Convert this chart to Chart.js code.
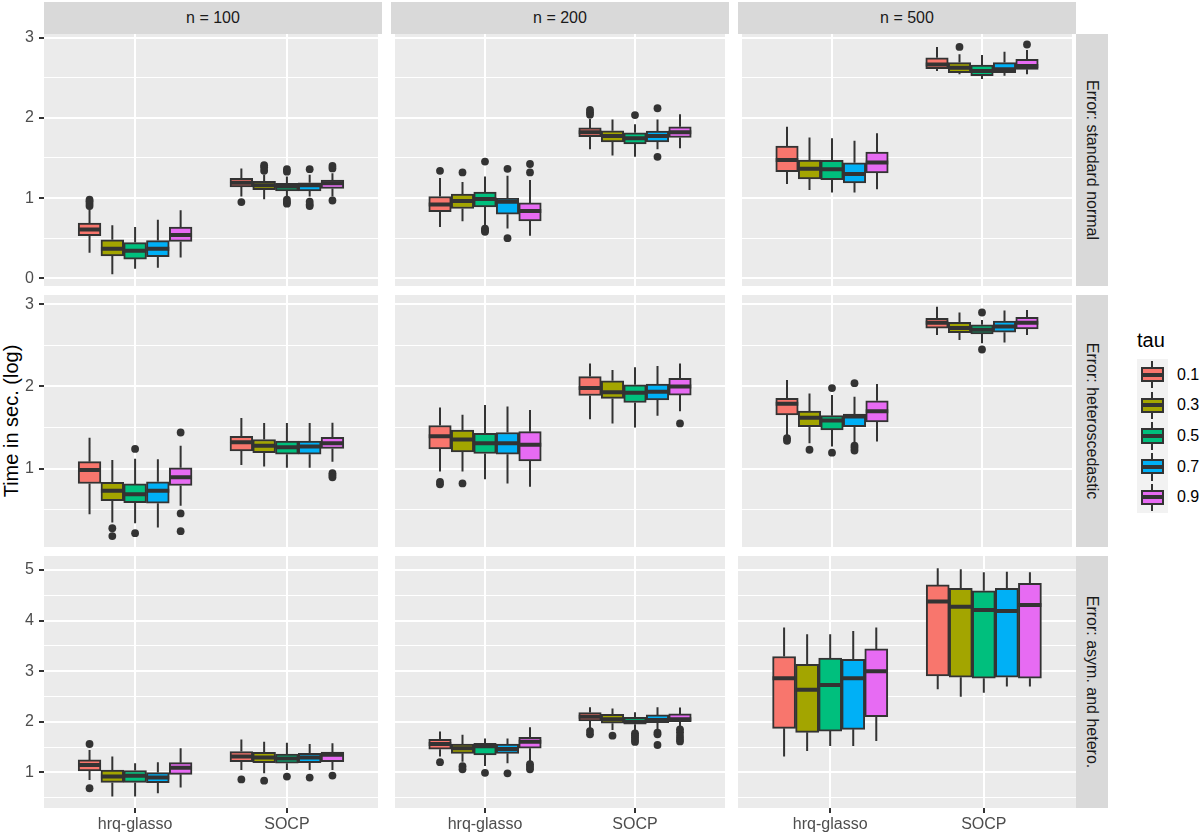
<!DOCTYPE html>
<html>
<head>
<meta charset="utf-8">
<script src="https://cdn.jsdelivr.net/npm/chart.js@4.4.1/dist/chart.umd.min.js"></script>
<style>
html,body{margin:0;padding:0;background:#ffffff;}
body{width:1200px;height:834px;position:relative;overflow:hidden;font-family:"Liberation Sans",Arial,sans-serif;}
canvas{position:absolute;}
.strip{position:absolute;background:#D9D9D9;color:#1A1A1A;font-size:16px;display:flex;align-items:center;justify-content:center;white-space:nowrap;}
.strip.right span{display:block;transform:rotate(90deg);}
#ytitle{position:absolute;left:11px;top:421px;transform:translate(-50%,-50%) rotate(-90deg);font-size:20px;color:#000;white-space:nowrap;}
#legtitle{position:absolute;left:1137px;top:330px;font-size:20px;line-height:20px;color:#000;}
.lkey{position:absolute;background:#F2F2F2;}
.lkey .wh{position:absolute;background:#333333;}
.lkey .bx{position:absolute;box-sizing:border-box;border:2px solid #333333;}
.lkey .md{position:absolute;background:#333333;}
.llab{position:absolute;font-size:16px;color:#000;line-height:20px;}
</style>
</head>
<body>
<div id="ytitle">Time in sec. (log)</div>
<div id="legtitle">tau</div>
<script>
// ---------- labels ----------
const sizeLabels = ['n = 100', 'n = 200', 'n = 500'];
const errorLabels = ['Error: standard normal', 'Error: heteroscedastic', 'Error: asym. and hetero.'];
const methods = ['hrq-glasso', 'SOCP'];
const taus = ['0.1', '0.3', '0.5', '0.7', '0.9'];
const legendTitle = 'tau';

// y tick values per row (major labelled, minor unlabelled grid)
const rowMajorTicks = [[0, 1, 2, 3], [1, 2, 3], [1, 2, 3, 4, 5]];
const rowMinorTicks = [[0.5, 1.5, 2.5], [0.5, 1.5, 2.5], [0.5, 1.5, 2.5, 3.5, 4.5]];
const rowYRange = [[-0.096, 3.046], [0.047, 3.113], [0.294, 5.277]];
const methodTicks = [1, 2];

// ---------- box statistics: [lower whisker, Q1, median, Q3, upper whisker]
// rows: hrq-glasso tau 0.1..0.9, then SOCP tau 0.1..0.9
const normal_n100 = [
  [0.32, 0.53, 0.61, 0.69, 0.86], [0.05, 0.28, 0.37, 0.48, 0.66], [0.12, 0.24, 0.345, 0.445, 0.64],
  [0.13, 0.27, 0.37, 0.47, 0.73], [0.26, 0.46, 0.54, 0.64, 0.85],
  [1.02, 1.14, 1.19, 1.245, 1.37], [0.985, 1.105, 1.16, 1.21, 1.29], [1.02, 1.09, 1.145, 1.185, 1.27],
  [1.02, 1.09, 1.16, 1.19, 1.29], [1.02, 1.12, 1.185, 1.225, 1.31]
];
const normal_n200 = [
  [0.64, 0.83, 0.92, 1.02, 1.25], [0.71, 0.87, 0.965, 1.05, 1.2], [0.665, 0.89, 0.99, 1.075, 1.27],
  [0.62, 0.80, 0.955, 1.0, 1.28], [0.53, 0.715, 0.84, 0.94, 1.225],
  [1.61, 1.765, 1.82, 1.875, 1.99], [1.53, 1.70, 1.775, 1.84, 1.98], [1.515, 1.675, 1.745, 1.815, 1.92],
  [1.61, 1.70, 1.775, 1.835, 1.98], [1.62, 1.755, 1.82, 1.89, 2.045]
];
const normal_n500 = [
  [1.175, 1.33, 1.475, 1.65, 1.89], [1.10, 1.24, 1.365, 1.475, 1.755], [1.07, 1.23, 1.36, 1.47, 1.745],
  [1.07, 1.19, 1.30, 1.44, 1.715], [1.11, 1.315, 1.445, 1.575, 1.81],
  [2.585, 2.615, 2.665, 2.75, 2.885], [2.545, 2.565, 2.626, 2.69, 2.795], [2.485, 2.525, 2.584, 2.66, 2.785],
  [2.525, 2.565, 2.605, 2.69, 2.825], [2.545, 2.605, 2.646, 2.73, 2.845]
];
const hetero_n100 = [
  [0.445, 0.82, 0.985, 1.085, 1.375], [0.345, 0.61, 0.73, 0.835, 1.105], [0.335, 0.585, 0.69, 0.815, 1.12],
  [0.285, 0.58, 0.73, 0.84, 1.115], [0.55, 0.795, 0.895, 1.01, 1.28],
  [1.045, 1.215, 1.32, 1.395, 1.615], [1.025, 1.195, 1.28, 1.355, 1.555], [1.01, 1.175, 1.26, 1.335, 1.555],
  [1.01, 1.175, 1.27, 1.335, 1.555], [1.085, 1.245, 1.31, 1.38, 1.56]
];
const hetero_n200 = [
  [0.965, 1.24, 1.395, 1.525, 1.745], [0.965, 1.205, 1.355, 1.47, 1.655], [0.87, 1.185, 1.31, 1.43, 1.775],
  [0.82, 1.175, 1.31, 1.44, 1.755], [0.78, 1.095, 1.29, 1.45, 1.715],
  [1.60, 1.89, 1.98, 2.12, 2.28], [1.55, 1.855, 1.93, 2.07, 2.20], [1.50, 1.805, 1.925, 2.02, 2.235],
  [1.645, 1.835, 1.935, 2.03, 2.25], [1.70, 1.895, 2.0, 2.10, 2.28]
];
const hetero_n500 = [
  [1.41, 1.655, 1.79, 1.855, 2.08], [1.31, 1.51, 1.62, 1.70, 1.915], [1.27, 1.47, 1.585, 1.645, 1.895],
  [1.31, 1.51, 1.635, 1.665, 1.875], [1.33, 1.57, 1.70, 1.825, 2.03],
  [2.625, 2.71, 2.775, 2.83, 2.97], [2.565, 2.655, 2.71, 2.78, 2.90], [2.525, 2.64, 2.69, 2.75, 2.81],
  [2.535, 2.66, 2.73, 2.795, 2.925], [2.625, 2.70, 2.775, 2.84, 2.93]
];
const asym_n100 = [
  [0.85, 1.025, 1.145, 1.245, 1.44], [0.52, 0.80, 0.915, 1.045, 1.31], [0.52, 0.80, 0.93, 1.035, 1.18],
  [0.585, 0.795, 0.895, 0.995, 1.20], [0.70, 0.96, 1.09, 1.19, 1.475],
  [1.045, 1.21, 1.31, 1.41, 1.65], [0.98, 1.19, 1.295, 1.395, 1.605], [1.045, 1.18, 1.275, 1.36, 1.585],
  [1.045, 1.19, 1.295, 1.375, 1.56], [1.045, 1.21, 1.345, 1.40, 1.575]
];
const asym_n200 = [
  [1.31, 1.455, 1.56, 1.65, 1.805], [1.21, 1.375, 1.475, 1.56, 1.74], [1.125, 1.345, 1.514, 1.575, 1.67],
  [1.18, 1.375, 1.46, 1.56, 1.67], [1.21, 1.475, 1.605, 1.69, 1.89],
  [1.87, 2.015, 2.10, 2.18, 2.285], [1.835, 1.97, 2.05, 2.145, 2.26], [1.835, 1.95, 2.0, 2.085, 2.185],
  [1.835, 1.98, 2.035, 2.135, 2.285], [1.88, 2.0, 2.05, 2.155, 2.28]
];
const asym_n500 = [
  [1.31, 1.87, 2.86, 3.29, 3.865], [1.42, 1.79, 2.63, 3.135, 3.73], [1.52, 1.815, 2.725, 3.26, 3.73],
  [1.52, 1.85, 2.86, 3.235, 3.795], [1.62, 2.10, 3.0, 3.44, 3.865],
  [2.64, 2.905, 4.375, 4.705, 5.035], [2.495, 2.88, 4.275, 4.64, 5.015], [2.575, 2.86, 4.21, 4.59, 4.955],
  [2.695, 2.88, 4.19, 4.64, 4.965], [2.695, 2.86, 4.31, 4.735, 4.955]
];

// ---------- outliers (same row order) ----------
const normal_n100_out = [[0.90, 0.93, 0.96, 0.98], [], [], [], [],
  [0.95], [1.34, 1.38, 1.41], [1.33, 1.36, 0.93, 0.95, 0.98], [1.36, 0.90, 0.92, 0.955], [1.37, 1.40, 0.97]];
const normal_n200_out = [[1.34], [1.32], [1.455, 0.58, 0.60, 0.62], [1.365, 0.50], [1.425, 1.32],
  [2.04, 2.07, 2.10], [], [2.035], [2.12, 1.515], []];
const normal_n500_out = [[], [], [], [], [], [], [2.885], [], [], [2.915]];
const hetero_n100_out = [[], [0.275, 0.18], [1.24, 0.215], [], [1.44, 0.455, 0.24],
  [], [], [], [], [0.945, 0.92, 0.895]];
const hetero_n200_out = [[0.84, 0.81], [0.82], [], [], [], [], [], [], [], [1.55]];
const hetero_n500_out = [[1.37, 1.34], [1.23], [1.98, 1.195], [2.04, 1.28, 1.25, 1.22], [],
  [], [], [2.90, 2.45], [], []];
const asym_n100_out = [[1.56, 0.685], [], [], [], [], [0.86], [0.835], [0.915], [0.895], [0.935]];
const asym_n200_out = [[1.20], [1.12, 1.06], [0.99], [0.98], [1.16, 1.11, 1.06],
  [1.815, 1.75], [1.725], [1.77, 1.73, 1.69, 1.64, 1.60], [1.785, 1.75, 1.54], [1.85, 1.79, 1.72, 1.66, 1.61]];
const asym_n500_out = [[], [], [], [], [], [], [], [], [], []];

const panelStats = [
  [normal_n100, normal_n200, normal_n500],
  [hetero_n100, hetero_n200, hetero_n500],
  [asym_n100, asym_n200, asym_n500]
];
const panelOutliers = [
  [normal_n100_out, normal_n200_out, normal_n500_out],
  [hetero_n100_out, hetero_n200_out, hetero_n500_out],
  [asym_n100_out, asym_n200_out, asym_n500_out]
];

// ---------- style / layout ----------
const tauColors = ['#F8766D', '#A3A500', '#00BF7D', '#00B0F6', '#E76BF3'];
const INK = '#333333';
const LW = 2;
const DODGE = 0.15;
const colLeft = [44, 391, 738];
const rowTop = [34, 295, 556];
const PW = 338, PH = 252, PAD = 12, YAXW = 44, XAXH = 28;

Chart.defaults.font.family = '"Liberation Sans", Arial, sans-serif';
Chart.defaults.animation = false;

const bgPlugin = {
  id: 'panelBg',
  beforeDraw(chart) {
    const a = chart.chartArea, ctx = chart.ctx;
    ctx.save();
    ctx.fillStyle = '#EBEBEB';
    ctx.fillRect(a.left, a.top, a.right - a.left, a.bottom - a.top);
    ctx.restore();
  }
};

function addStrip(cls, left, top, w, h, text) {
  const d = document.createElement('div');
  d.className = 'strip ' + cls;
  Object.assign(d.style, {left: left + 'px', top: top + 'px', width: w + 'px', height: h + 'px'});
  const s = document.createElement('span');
  s.textContent = text;
  d.appendChild(s);
  document.body.appendChild(d);
}

function buildPanel(r, c) {
  const stats = panelStats[r][c], outs = panelOutliers[r][c];
  const isLeft = c === 0, isBottom = r === 2;
  const cv = document.createElement('canvas');
  const w = isLeft ? YAXW + PW : PW;
  const h = PAD + PH + (isBottom ? XAXH : PAD);
  cv.width = w; cv.height = h;
  cv.style.width = w + 'px'; cv.style.height = h + 'px';
  cv.style.left = (isLeft ? 0 : colLeft[c]) + 'px';
  cv.style.top = (rowTop[r] - PAD) + 'px';
  document.body.appendChild(cv);

  const datasets = [];
  taus.forEach((t, i) => {
    datasets.push({
      type: 'bar', label: t,
      data: methods.map((m, j) => {
        const s = stats[j * 5 + i];
        return {x: j + 1 + (i - 2) * DODGE, y: [s[1], s[3]]};
      }),
      backgroundColor: tauColors[i], borderColor: INK, borderWidth: LW,
      borderSkipped: false, grouped: false, barPercentage: 1, categoryPercentage: 1, order: 2
    });
  });
  const whisk = [], meds = [], pts = [];
  methods.forEach((m, j) => taus.forEach((t, i) => {
    const s = stats[j * 5 + i], x = j + 1 + (i - 2) * DODGE;
    whisk.push({x, y: s[0]}, {x, y: s[1]}, {x, y: null}, {x, y: s[3]}, {x, y: s[4]}, {x, y: null});
    meds.push({x: x - DODGE / 2, y: s[2]}, {x: x + DODGE / 2, y: s[2]}, {x: x + DODGE / 2, y: null});
    outs[j * 5 + i].forEach(v => pts.push({x, y: v}));
  }));
  datasets.push({type: 'line', label: 'whiskers', data: whisk, borderColor: INK, borderWidth: LW,
    pointRadius: 0, spanGaps: false, tension: 0, order: 3});
  datasets.push({type: 'line', label: 'medians', data: meds, borderColor: INK, borderWidth: LW * 2,
    pointRadius: 0, spanGaps: false, tension: 0, order: 1});
  datasets.push({type: 'scatter', label: 'outliers', data: pts, pointRadius: 3.9,
    pointBackgroundColor: INK, pointBorderWidth: 0, pointBorderColor: INK, showLine: false, order: 0});

  const major = rowMajorTicks[r], minor = rowMinorTicks[r];
  const isMajor = v => major.some(m => Math.abs(m - v) < 1e-9);

  new Chart(cv, {
    type: 'bar',
    data: {datasets},
    options: {
      responsive: false, animation: false, events: [],
      layout: {padding: {top: PAD, bottom: isBottom ? 0 : PAD, left: 0, right: 0}},
      plugins: {legend: {display: false}, tooltip: {enabled: false}, title: {display: false}},
      scales: {
        x: {
          type: 'linear', min: 0.4, max: 2.6, offset: false, bounds: 'data',
          afterBuildTicks: s => { s.ticks = methodTicks.map(v => ({value: v})); },
          afterFit: s => { s.height = isBottom ? XAXH : 0; s.paddingLeft = 0; s.paddingRight = 0; },
          ticks: {display: isBottom, autoSkip: false, maxRotation: 0, padding: 2,
            color: '#4D4D4D', font: {size: 16},
            callback: v => methods[Math.round(v) - 1]},
          grid: {offset: false, color: '#FFFFFF', lineWidth: LW, drawTicks: isBottom,
            tickLength: 5, tickColor: INK, tickWidth: LW},
          border: {display: false}
        },
        y: {
          type: 'linear', min: rowYRange[r][0], max: rowYRange[r][1], beginAtZero: false, bounds: 'data',
          afterBuildTicks: s => {
            s.ticks = major.concat(minor).sort((a, b) => a - b).map(v => ({value: v}));
          },
          afterFit: s => { s.width = isLeft ? YAXW : 0; s.paddingTop = 0; s.paddingBottom = 0; },
          ticks: {display: isLeft, autoSkip: false, padding: 5, color: '#4D4D4D', font: {size: 16},
            callback: v => isMajor(v) ? String(v) : ''},
          grid: {color: '#FFFFFF',
            lineWidth: ctx => isMajor(ctx.tick.value) ? LW : LW / 2,
            drawTicks: isLeft, tickLength: 5,
            tickColor: ctx => isMajor(ctx.tick.value) ? INK : 'rgba(0,0,0,0)',
            tickWidth: LW},
          border: {display: false}
        }
      }
    },
    plugins: [bgPlugin]
  });
}

// strips
sizeLabels.forEach((t, c) => addStrip('top', colLeft[c], 2, PW, 32, t));
errorLabels.forEach((t, r) => addStrip('right', colLeft[2] + PW, rowTop[r], 32, PH, t));

for (let r = 0; r < 3; r++) for (let c = 0; c < 3; c++) buildPanel(r, c);

// legend
const LX = 1136.7, LY = 359.3, KH = 30.7, KW = 31.6;
document.getElementById('legtitle').textContent = legendTitle;
taus.forEach((t, i) => {
  const k = document.createElement('div');
  k.className = 'lkey';
  Object.assign(k.style, {left: LX + 'px', top: (LY + i * KH) + 'px', width: KW + 'px', height: KH + 'px'});
  const wh = document.createElement('div'); wh.className = 'wh';
  Object.assign(wh.style, {left: (KW / 2 - LW / 2) + 'px', width: LW + 'px', top: (KH * 0.05) + 'px', height: (KH * 0.9) + 'px'});
  const bx = document.createElement('div'); bx.className = 'bx';
  Object.assign(bx.style, {left: (KW * 0.125) + 'px', width: (KW * 0.75) + 'px', top: (KH * 0.25) + 'px', height: (KH * 0.5) + 'px', background: tauColors[i]});
  const md = document.createElement('div'); md.className = 'md';
  Object.assign(md.style, {left: (KW * 0.125) + 'px', width: (KW * 0.75) + 'px', top: (KH * 0.5 - LW) + 'px', height: (LW * 2) + 'px'});
  k.appendChild(wh); k.appendChild(bx); k.appendChild(md);
  document.body.appendChild(k);
  const lab = document.createElement('div');
  lab.className = 'llab';
  lab.textContent = t;
  Object.assign(lab.style, {left: '1177px', top: (LY + i * KH + KH / 2 - 10) + 'px'});
  document.body.appendChild(lab);
});
</script>
</body>
</html>
